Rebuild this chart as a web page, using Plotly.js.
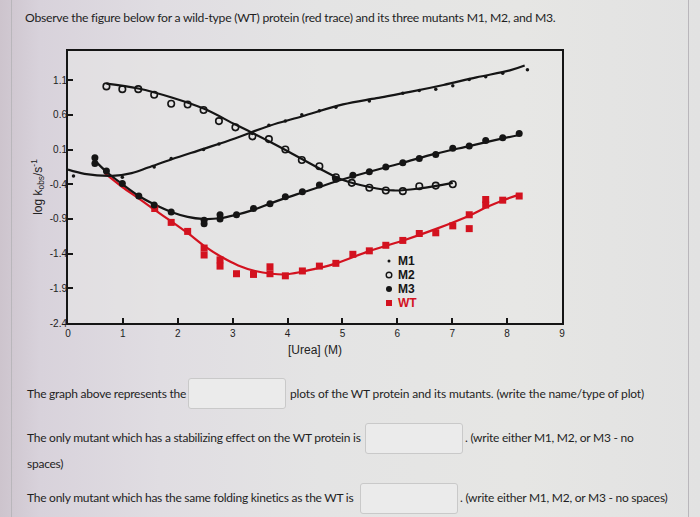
<!DOCTYPE html>
<html>
<head>
<meta charset="utf-8">
<script src="https://cdn.plot.ly/plotly-3.0.1.min.js"></script>
<style>
  html, body { margin:0; padding:0; }
  body {
    width:700px; height:517px; overflow:hidden; position:relative;
    background: linear-gradient(90deg, #cdc4cd 0px, #d8d2db 40px, #e0dde2 160px, #e4e4e4 320px, #e6e6e4 520px, #e2e2e2 700px);
    font-family: Lato, "Open Sans", sans-serif; color:#1f1f1f;
  }
  .vline { position:absolute; top:0; width:1px; height:517px; background:#b9b6bb; }
  #chart { position:absolute; left:0; top:0; width:700px; height:517px; }
  .t { position:absolute; font-size:12px; letter-spacing:-0.25px; white-space:nowrap; line-height:16px; }
  .box { position:absolute; width:96px; height:29px; border:1px solid #c9c9c9; border-radius:3px; background:#ebebeb; }
</style>
</head>
<body>
<div class="vline" style="left:11px"></div>
<div class="vline" style="left:688px"></div>
<div id="chart"></div>

<div class="t" style="left:25px; top:10px; font-size:12.2px;">Observe the figure below for a wild-type (WT) protein (red trace) and its three mutants M1, M2, and M3.</div>

<div class="t" style="left:27px; top:386px;">The graph above represents the</div>
<div class="box" style="left:188px; top:378px;"></div>
<div class="t" style="left:290px; top:386px; letter-spacing:-0.15px;">plots of the WT protein and its mutants. (write the name/type of plot)</div>

<div class="t" style="left:27px; top:430px;">The only mutant which has a stabilizing effect on the WT protein is</div>
<div class="box" style="left:365px; top:423px;"></div>
<div class="t" style="left:465px; top:430px;">. (write either M1, M2, or M3 - no</div>
<div class="t" style="left:27px; top:456px;">spaces)</div>

<div class="t" style="left:27px; top:490px;">The only mutant which has the same folding kinetics as the WT is</div>
<div class="box" style="left:360px; top:483px;"></div>
<div class="t" style="left:460px; top:490px;">. (write either M1, M2, or M3 - no spaces)</div>

<script>
// ---- data: [Urea] (M) and log k_obs (s^-1) ----
const m1Urea = [0.10, 0.99, 1.57, 1.88, 2.47, 2.75, 3.36, 3.66, 3.96, 4.26, 4.58, 4.88, 5.49, 6.10, 6.40, 6.70, 7.01, 7.31, 7.61, 7.92, 8.37];
const m1Log  = [-0.28, -0.30, -0.15, -0.03, 0.10, 0.18, 0.33, 0.45, 0.51, 0.60, 0.66, 0.71, 0.80, 0.91, 0.95, 0.97, 1.02, 1.11, 1.15, 1.20, 1.25];
const m1FitUrea = [0.00, 0.30, 0.80, 1.16, 1.46, 1.89, 2.47, 3.04, 3.66, 4.27, 5.01, 5.62, 6.23, 6.84, 7.44, 8.05, 8.32];
const m1FitLog  = [-0.19, -0.25, -0.28, -0.24, -0.16, -0.04, 0.11, 0.26, 0.44, 0.58, 0.75, 0.84, 0.93, 1.03, 1.14, 1.24, 1.31];

const m2Urea = [0.70, 0.99, 1.28, 1.57, 1.88, 2.18, 2.47, 2.75, 3.05, 3.36, 3.66, 3.96, 4.26, 4.58, 4.88, 5.17, 5.49, 5.79, 6.10, 6.40, 6.70, 7.01];
const m2Log  = [1.01, 0.97, 0.97, 0.89, 0.76, 0.75, 0.67, 0.51, 0.42, 0.29, 0.25, 0.10, -0.05, -0.14, -0.30, -0.38, -0.45, -0.49, -0.50, -0.43, -0.42, -0.40];
const m2FitUrea = [0.70, 1.28, 1.89, 2.47, 3.05, 3.36, 3.66, 3.97, 4.27, 4.62, 5.01, 5.49, 5.93, 6.41, 7.01];
const m2FitLog  = [1.05, 0.98, 0.85, 0.69, 0.46, 0.34, 0.22, 0.09, -0.04, -0.19, -0.34, -0.44, -0.49, -0.46, -0.38];

const m3Urea = [0.49, 0.49, 0.70, 0.99, 1.29, 1.57, 1.88, 2.48, 2.48, 2.77, 2.77, 3.07, 3.38, 3.68, 3.96, 4.27, 4.58, 4.88, 5.19, 5.49, 5.79, 6.10, 6.40, 6.70, 7.01, 7.31, 7.61, 7.92, 8.22];
const m3Log  = [-0.02, -0.10, -0.21, -0.39, -0.57, -0.70, -0.80, -0.92, -0.97, -0.84, -0.90, -0.84, -0.75, -0.68, -0.58, -0.51, -0.41, -0.33, -0.27, -0.22, -0.15, -0.09, -0.03, 0.03, 0.12, 0.15, 0.23, 0.27, 0.33];
const m3FitUrea = [0.49, 0.70, 0.99, 1.29, 1.57, 1.88, 2.18, 2.45, 2.77, 3.07, 3.38, 3.68, 3.96, 4.27, 4.58, 4.88, 5.49, 6.10, 6.70, 7.31, 7.92, 8.22];
const m3FitLog  = [-0.06, -0.22, -0.40, -0.57, -0.69, -0.80, -0.87, -0.90, -0.89, -0.84, -0.77, -0.68, -0.60, -0.52, -0.44, -0.36, -0.22, -0.09, 0.04, 0.15, 0.26, 0.31];

const wtUrea = [1.58, 1.88, 2.18, 2.48, 2.48, 2.77, 2.77, 3.07, 3.38, 3.68, 3.68, 3.96, 4.27, 4.58, 4.88, 5.19, 5.49, 5.79, 6.10, 6.40, 6.70, 7.01, 7.31, 7.31, 7.61, 7.61, 7.92, 8.22];
const wtLog  = [-0.75, -0.95, -1.08, -1.32, -1.42, -1.49, -1.58, -1.69, -1.70, -1.59, -1.69, -1.72, -1.65, -1.58, -1.54, -1.41, -1.36, -1.28, -1.21, -1.11, -1.10, -1.00, -0.84, -1.04, -0.62, -0.70, -0.63, -0.57];
const wtFitUrea = [0.67, 0.99, 1.28, 1.58, 1.89, 2.19, 2.50, 2.80, 3.10, 3.41, 3.71, 3.95, 4.27, 4.50, 4.89, 5.50, 6.11, 6.72, 7.32, 7.63, 7.93, 8.22];
const wtFitLog  = [-0.24, -0.44, -0.60, -0.77, -0.94, -1.11, -1.30, -1.45, -1.57, -1.65, -1.69, -1.70, -1.66, -1.62, -1.54, -1.36, -1.21, -1.04, -0.85, -0.73, -0.63, -0.55];

const xTicks = [0, 1, 2, 3, 4, 5, 6, 7, 8, 9];
const yTicks = [-2.4, -1.9, -1.4, -0.9, -0.4, 0.1, 0.6, 1.1];
const yTickText = ["-2.4", "-1.9", "-1.4", "-0.9", "-0.4", "0.1", "0.6", "1.1"];

const legendNames = ["M1", "M2", "M3", "WT"];

// ---- styles ----
const BLACK = "#151515";
const RED = "#d3121f";

function fit(x, y, color) {
  return { x: x, y: y, mode: "lines", type: "scatter", line: { color: color, width: 2.2, shape: "spline", smoothing: 1 },
           hoverinfo: "skip", showlegend: false };
}

const traces = [
  fit(wtFitUrea, wtFitLog, RED),
  fit(m3FitUrea, m3FitLog, BLACK),
  fit(m2FitUrea, m2FitLog, BLACK),
  fit(m1FitUrea, m1FitLog, BLACK),
  { x: wtUrea, y: wtLog, mode: "markers", type: "scatter", name: legendNames[3], showlegend: false,
    marker: { symbol: "square", size: 7, color: RED } },
  { x: m3Urea, y: m3Log, mode: "markers", type: "scatter", name: legendNames[2], showlegend: false,
    marker: { symbol: "circle", size: 7, color: BLACK } },
  { x: m2Urea, y: m2Log, mode: "markers", type: "scatter", name: legendNames[1], showlegend: false,
    marker: { symbol: "circle-open", size: 6.5, color: BLACK, line: { width: 1.6, color: BLACK } } },
  { x: m1Urea, y: m1Log, mode: "markers", type: "scatter", name: legendNames[0], showlegend: false,
    marker: { symbol: "circle", size: 3.5, color: BLACK } }
];

// plot area in pixels: x 68..562, y 51..323
const L = 68, R = 562, T = 51, B = 323;
const px = v => (v - L) / (R - L);
const py = v => (B - v) / (B - T);

const legendRows = [261, 275, 289, 303];
const legendMarkerX = 389;
const legendTextX = 396;

const annotations = legendNames.map((n, i) => ({
  xref: "paper", yref: "paper", x: px(legendTextX), y: py(legendRows[i]),
  xanchor: "left", yanchor: "middle", showarrow: false,
  text: i === 3 ? "<b><span style='color:" + RED + "'>" + n + "</span></b>" : "<b>" + n + "</b>",
  font: { family: "Arial, Liberation Sans, sans-serif", size: 12, color: BLACK }
}));

function mk(i, type, r, fill, lineW, lineC) {
  return { type: type, xref: "paper", yref: "paper", xsizemode: "pixel", ysizemode: "pixel",
           xanchor: px(legendMarkerX), yanchor: py(legendRows[i]),
           x0: -r, x1: r, y0: -r, y1: r, fillcolor: fill, line: { width: lineW, color: lineC } };
}
const shapes = [
  mk(0, "circle", 1.5, BLACK, 0, BLACK),
  mk(1, "circle", 2.8, "rgba(0,0,0,0)", 1.4, BLACK),
  mk(2, "circle", 3, BLACK, 0, BLACK),
  mk(3, "rect", 3, RED, 0, RED)
];

const axisFont = { family: "Arial, Liberation Sans, sans-serif", size: 10, color: "#222" };

const layout = {
  width: 700, height: 517,
  margin: { l: L, r: 700 - R, t: T, b: 517 - B, pad: 0 },
  paper_bgcolor: "rgba(0,0,0,0)",
  plot_bgcolor: "rgba(232,232,230,0.55)",
  showlegend: false,
  xaxis: {
    range: [0, 9], tickvals: xTicks, ticktext: xTicks.map(String),
    showgrid: false, zeroline: false, showline: true, linecolor: BLACK, linewidth: 2, mirror: true,
    ticks: "inside", ticklen: 5, tickwidth: 2, tickcolor: BLACK,
    tickfont: axisFont,
    title: { text: "[Urea] (M)", font: { family: "Arial, Liberation Sans, sans-serif", size: 12, color: "#222" }, standoff: 8 }
  },
  yaxis: {
    range: [-2.4, 1.52], tickvals: yTicks, ticktext: yTickText,
    showgrid: false, zeroline: false, showline: true, linecolor: BLACK, linewidth: 2, mirror: true,
    ticks: "inside", ticklen: 5, tickwidth: 2, tickcolor: BLACK,
    ticklabelstandoff: -3,
    tickfont: axisFont,
    title: { text: "log k<sub>obs</sub>/s<sup>-1</sup>", font: { family: "Arial, Liberation Sans, sans-serif", size: 12, color: "#222" }, standoff: 5 }
  },
  annotations: annotations,
  shapes: shapes
};

Plotly.newPlot("chart", traces, layout, { staticPlot: true, displayModeBar: false });
</script>
</body>
</html>
